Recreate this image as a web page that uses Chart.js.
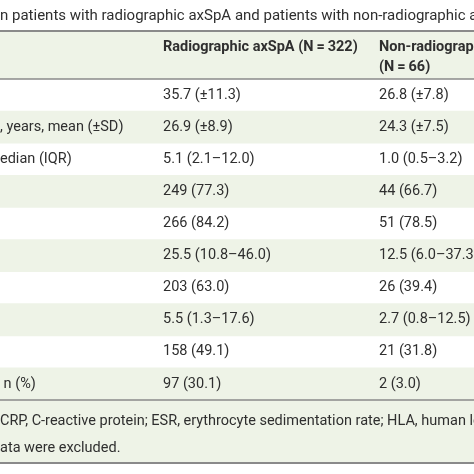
<!DOCTYPE html>
<html>
<head>
<meta charset="utf-8">
<script src="https://cdn.jsdelivr.net/npm/chart.js@4"></script>
<style>
  html, body { margin: 0; padding: 0; background: #fff; }
  #wrap { width: 474px; height: 474px; }
</style>
</head>
<body>
<div id="wrap"><canvas id="tableChart"></canvas></div>
<script>
// table content (left part of the original is cropped off)
const titleText = "n patients with radiographic axSpA and patients with non-radiographic axSpA";
const headerCols = ["Radiographic axSpA (N\u2009=\u2009322)", "Non-radiographic axSpA", "(N\u2009=\u200966)"];
const rowLabels = ["", ", years, mean (\u00b1SD)", "edian (IQR)", "", "", "", "", "", "", " n (%)"];
const radiographic = ["35.7 (\u00b111.3)", "26.9 (\u00b18.9)", "5.1 (2.1\u201312.0)", "249 (77.3)", "266 (84.2)",
    "25.5 (10.8\u201346.0)", "203 (63.0)", "5.5 (1.3\u201317.6)", "158 (49.1)", "97 (30.1)"];
const nonRadiographic = ["26.8 (\u00b17.8)", "24.3 (\u00b17.5)", "1.0 (0.5\u20133.2)", "44 (66.7)", "51 (78.5)",
    "12.5 (6.0\u201337.3)", "26 (39.4)", "2.7 (0.8\u201312.5)", "21 (31.8)", "2 (3.0)"];
const shaded = [null, 1, null, 1, null, 1, null, 1, null, 1]; // alternate row shading
const footnotes = ["CRP, C-reactive protein; ESR, erythrocyte sedimentation rate; HLA, human leukocyte antigen",
    "ata were excluded."];

const green = "#eef3e7";
const rule = "#8a8a8a";
const ink = "#2f2f2f";
const font = "14.5px Roboto, 'Open Sans', sans-serif";

// draws header, rules, footnote and cell text using the y scale of the rows
const tablePlugin = {
    id: "tablePlugin",
    beforeDatasetsDraw(chart) {
        const ctx = chart.ctx;
        const area = chart.chartArea;
        ctx.save();
        ctx.fillStyle = green;
        ctx.fillRect(0, 31, chart.width, area.top - 31);
        ctx.fillRect(0, area.bottom, chart.width, 463 - area.bottom);
        ctx.restore();
    },
    afterDraw(chart) {
        const ctx = chart.ctx;
        const area = chart.chartArea;
        const y = chart.scales.y;
        ctx.save();
        ctx.fillStyle = ink;
        ctx.textBaseline = "middle";
        ctx.font = "15px Roboto, 'Open Sans', sans-serif";
        ctx.fillText(titleText, 0, 16);

        // rules
        ctx.strokeStyle = rule;
        [[31, 2], [area.top, 1.5], [area.bottom, 1.5], [463, 2]].forEach(([py, w]) => {
            ctx.lineWidth = w;
            ctx.beginPath();
            ctx.moveTo(0, py);
            ctx.lineTo(chart.width, py);
            ctx.stroke();
        });

        ctx.font = "bold 14.5px Roboto, 'Open Sans', sans-serif";
        ctx.fillText(headerCols[0], 163, 47);
        ctx.fillText(headerCols[1], 379, 47);
        ctx.fillText(headerCols[2], 379, 67);

        ctx.font = font;
        rowLabels.forEach((lab, i) => {
            const py = y.getPixelForValue(i);
            ctx.fillText(lab, 0, py);
            ctx.fillText(radiographic[i], 163, py);
            ctx.fillText(nonRadiographic[i], 379, py);
        });
        ctx.fillText(footnotes[0], 0, 421);
        ctx.fillText(footnotes[1], 0, 448);
        ctx.restore();
    }
};

new Chart(document.getElementById("tableChart"), {
    type: "bar",
    data: {
        labels: radiographic.map((_, i) => "r" + i),
        datasets: [{
            data: shaded,
            backgroundColor: green,
            borderWidth: 0,
            barPercentage: 1,
            categoryPercentage: 1
        }]
    },
    options: {
        indexAxis: "y",
        responsive: true,
        maintainAspectRatio: false,
        animation: false,
        layout: { padding: { top: 79, bottom: 74, left: 0, right: 0 } },
        plugins: { legend: { display: false }, tooltip: { enabled: false } },
        scales: {
            x: { display: false, min: 0, max: 1 },
            y: { display: false, offset: true }
        }
    },
    plugins: [tablePlugin]
});
</script>
</body>
</html>
